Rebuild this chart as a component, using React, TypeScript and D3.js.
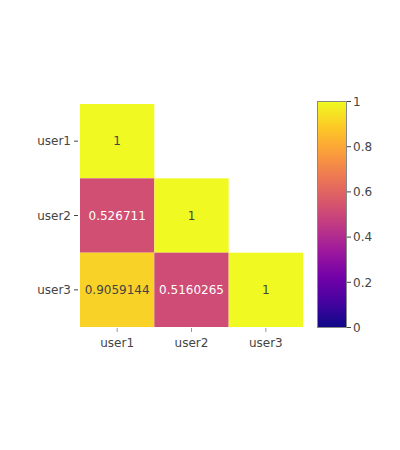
import React from "react";
import * as d3 from "d3";

const users = ["user1", "user2", "user3"];
// z[row][col], row = y category, col = x category; null = empty
const zRow1 = [1, null, null];
const zRow2 = [0.526711, 1, null];
const zRow3 = [0.9059144, 0.5160265, 1];
const zLabels = [["1", "", ""], ["0.526711", "1", ""], ["0.9059144", "0.5160265", "1"]];
const colorbarTicks = [0, 0.2, 0.4, 0.6, 0.8, 1];
const plasma = ["#0d0887", "#46039f", "#7201a8", "#9c179e", "#bd3786", "#d8576b", "#ed7953", "#fb9f3a", "#fdca26", "#f0f921"];

export default function App() {
  const W = 400, H = 450;
  const rows = [zRow1, zRow2, zRow3];
  const x = d3.scaleBand().domain(users).range([80, 303]);
  const y = d3.scaleBand().domain(users).range([104, 327]);
  const color = d3.scaleSequential(d3.interpolateRgbBasis(plasma)).domain([0, 1]);
  const cb = d3.scaleLinear().domain([0, 1]).range([327.5, 101.5]);
  const font = "'DejaVu Sans', Verdana, sans-serif";
  const textColor = (v: number) => {
    const c = d3.rgb(color(v));
    const lum = 0.299 * c.r + 0.587 * c.g + 0.114 * c.b;
    return lum < 150 ? "#ffffff" : "#444444";
  };
  return (
    <svg width={W} height={H} style={{ position: "absolute", left: 0, top: 0 }} fontFamily={font}>
      <defs>
        <linearGradient id="cbg" x1="0" y1="1" x2="0" y2="0">
          {plasma.map((c, i) => (
            <stop key={i} offset={i / (plasma.length - 1)} stopColor={c} />
          ))}
        </linearGradient>
      </defs>
      <rect width={W} height={H} fill="#fff" />
      {rows.map((row, ri) =>
        row.map((v, ci) =>
          v == null ? null : (
            <g key={`${ri}-${ci}`}>
              <rect x={x(users[ci])} y={y(users[ri])} width={x.bandwidth()} height={y.bandwidth()} fill={color(v)} />
              <text
                x={(x(users[ci]) as number) + x.bandwidth() / 2}
                y={(y(users[ri]) as number) + y.bandwidth() / 2}
                dy="0.35em"
                textAnchor="middle"
                fontSize={12}
                fill={textColor(v)}
              >
                {zLabels[ri][ci]}
              </text>
            </g>
          )
        )
      )}
      {users.map((u) => (
        <g key={"y" + u}>
          <line x1={74} x2={78} y1={(y(u) as number) + y.bandwidth() / 2} y2={(y(u) as number) + y.bandwidth() / 2} stroke="#444" strokeWidth={1} />
          <text x={71} y={(y(u) as number) + y.bandwidth() / 2} dy="0.35em" textAnchor="end" fontSize={12} fill="#444">
            {u}
          </text>
        </g>
      ))}
      {users.map((u) => (
        <g key={"x" + u}>
          <line x1={(x(u) as number) + x.bandwidth() / 2} x2={(x(u) as number) + x.bandwidth() / 2} y1={328} y2={332} stroke="#999" strokeWidth={1} />
          <text x={(x(u) as number) + x.bandwidth() / 2} y={347} textAnchor="middle" fontSize={12} fill="#444">
            {u}
          </text>
        </g>
      ))}
      <rect x={317.5} y={101.5} width={29} height={226} fill="url(#cbg)" stroke="#888" strokeWidth={1} />
      {colorbarTicks.map((t) => (
        <g key={"c" + t}>
          <line x1={347} x2={351} y1={cb(t)} y2={cb(t)} stroke="#444" strokeWidth={1} />
          <text x={353} y={cb(t)} dy="0.35em" fontSize={12} fill="#444">
            {d3.format("~g")(t)}
          </text>
        </g>
      ))}
    </svg>
  );
}
